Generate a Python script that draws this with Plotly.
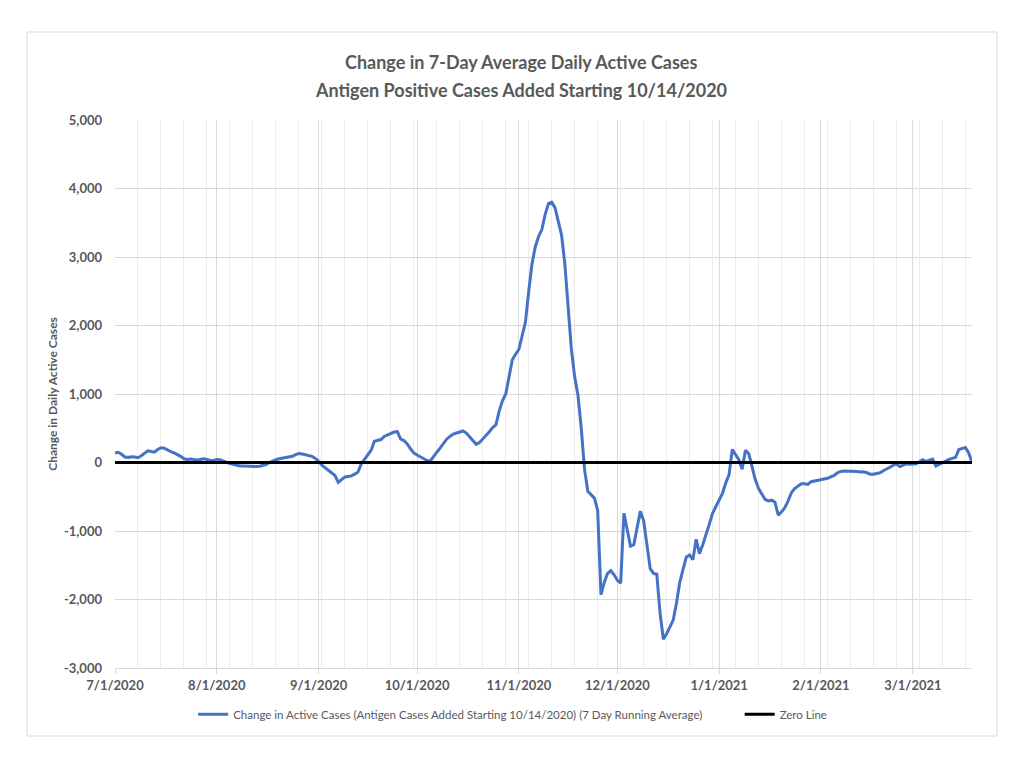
import pandas as pd
import plotly.graph_objects as go

# Change in 7-day average daily active cases, one value per day from 7/1/2020
start_date = "2020-07-01"
active_change = [
    140, 150, 120, 80, 75, 85, 80, 70, 100, 140,
    170, 160, 150, 190, 215, 210, 180, 160, 140, 120,
    90, 55, 45, 50, 40, 35, 45, 55, 45, 30,
    30, 45, 40, 20, -5, -15, -25, -40, -50, -50,
    -55, -60, -60, -60, -55, -45, -30, 0, 25, 40,
    55, 65, 70, 75, 90, 115, 130, 125, 115, 105,
    90, 60, 20, -40, -80, -120, -150, -190, -290, -250,
    -210, -205, -195, -170, -140, -20, 50, 110, 180, 310,
    325, 335, 380, 405, 430, 445, 450, 340, 320, 270,
    200, 140, 110, 80, 50, 30, 20, 90, 150, 210,
    280, 340, 380, 415, 430, 450, 460, 430, 370, 310,
    265, 290, 340, 390, 450, 510, 550, 750, 900, 1000,
    1250, 1500, 1580, 1650, 1850, 2050, 2500, 2900, 3150, 3300,
    3400, 3620, 3780, 3800, 3720, 3520, 3320, 2900, 2300, 1650,
    1250, 980, 500, -100, -420, -470, -520, -700, -1930, -1750,
    -1620, -1580, -1640, -1720, -1760, -740, -1000, -1220, -1200, -950,
    -710, -850, -1200, -1550, -1620, -1630, -2200, -2580, -2500, -2400,
    -2300, -2050, -1750, -1560, -1380, -1350, -1420, -1120, -1330, -1200,
    -1060, -900, -740, -640, -530, -450, -300, -180, 190, 110,
    40, -100, 180, 130, -60, -250, -380, -470, -540, -560,
    -550, -580, -770, -720, -660, -560, -440, -380, -340, -310,
    -310, -320, -280, -270, -270, -250, -240, -230, -210, -190,
    -150, -130, -125, -125, -125, -130, -130, -140, -135, -150,
    -170, -170, -160, -150, -120, -100, -70, -40, -20, -60,
    -40, -20, -25, -20, -20, 10, 40, 15, 30, 50,
    -50, -30, 0, 20, 45, 65, 75, 190, 210, 220,
    140, 0,
]
zero_line = [0, 0]

y_ticks = [-3000, -2000, -1000, 0, 1000, 2000, 3000, 4000, 5000]
y_tick_labels = ["-3,000", "-2,000", "-1,000", "0", "1,000", "2,000", "3,000", "4,000", "5,000"]

title_lines = [
    "Change in 7-Day Average Daily Active Cases",
    "Antigen Positive Cases Added Starting 10/14/2020",
]

dates = pd.date_range(start_date, periods=len(active_change), freq="D")
zero_dates = [dates[0], dates[-1]]

grey = "#595959"
font = "Lato, 'Open Sans', sans-serif"

fig = go.Figure()
fig.add_trace(go.Scatter(
    x=dates, y=active_change, mode="lines",
    # trailing spaces widen the gap to the next legend entry
    name="Change in Active Cases (Antigen Cases Added Starting 10/14/2020) (7 Day Running Average)" + "\u00a0" * 11,
    line=dict(color="#4472C4", width=3),
))
fig.add_trace(go.Scatter(
    x=zero_dates, y=zero_line, mode="lines", name="Zero Line",
    line=dict(color="black", width=3),
))

# page has an 8px body margin, so the figure is a bit smaller than the window
fig.update_layout(
    width=1016, height=760,
    paper_bgcolor="white", plot_bgcolor="white",
    margin=dict(l=107, r=52, t=112, b=100),
    font=dict(family=font, color=grey),
    legend=dict(
        orientation="h", x=0.464, xanchor="center", y=-0.058, yanchor="top",
        font=dict(size=11.5, color=grey), itemwidth=30,
    ),
    showlegend=True,
)

# two title lines placed separately to get Excel's line spacing
for text, ty in zip(title_lines, [1.106, 1.055]):
    fig.add_annotation(
        text="<b>" + text + "</b>", xref="paper", yref="paper",
        x=0.474, y=ty, xanchor="center", yanchor="middle", showarrow=False,
        font=dict(size=18, color=grey, family=font),
    )

fig.update_xaxes(
    range=[dates[0], dates[-1]],
    tickformat="%-m/%-d/%Y", dtick="M1", tick0=start_date,
    showgrid=True, gridcolor="#d9d9d9", gridwidth=1,
    ticks="outside", ticklen=5, tickcolor="#d9d9d9",
    showline=True, linecolor="#d9d9d9",
    tickfont=dict(size=13, color=grey, family=font, weight="bold"),
    minor=dict(dtick=7 * 86400000, tick0=start_date, showgrid=True,
               gridcolor="#ececec", gridwidth=1),
    zeroline=False,
)
fig.update_yaxes(
    range=[-3000, 5000],
    tickvals=y_ticks, ticktext=y_tick_labels,
    showgrid=True, gridcolor="#d9d9d9", gridwidth=1,
    zeroline=False, ticklabelstandoff=12,
    tickfont=dict(size=13, color=grey, family=font, weight="bold"),
    title=dict(text="<b>Change in Daily Active Cases</b>", font=dict(size=12, color=grey), standoff=3),
)

# light border around the whole chart
fig.add_shape(
    type="rect", xref="paper", yref="paper",
    x0=(27 - 115) / 857, x1=(997 - 115) / 857,
    y0=(668 - 736) / 548, y1=(668 - 32) / 548,
    line=dict(color="#d9d9d9", width=1), fillcolor="rgba(0,0,0,0)", layer="below",
)

fig.write_html("out.html")
